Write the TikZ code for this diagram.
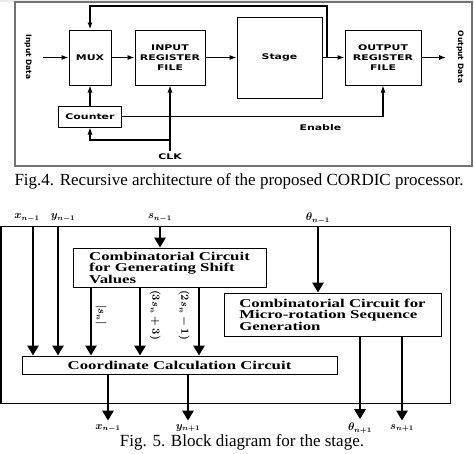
\documentclass[tikz,border=0pt]{standalone}
\usepackage{fontspec}
\usepackage{amsmath}
\usetikzlibrary{arrows.meta}
\setmainfont{Liberation Serif}
\newfontfamily\archfont[FakeStretch=1.4]{DejaVu Sans}
\newfontfamily\archside{DejaVu Sans}
\newfontfamily\blockfont[FakeStretch=1.4]{Liberation Serif}

\tikzset{
    unit/.style={draw, line width=1pt, inner sep=0pt, align=center,
        font=\archfont\bfseries\fontsize{7.8}{10}\selectfont},
    flow/.style={-{Latex[length=7pt,width=5pt]}, line width=1.1pt},
    block/.style={draw, line width=0.9pt, inner sep=0pt,
        font=\blockfont\bfseries\fontsize{12}{11.5}\selectfont},
    bus/.style={-{Triangle[length=10pt,width=11pt]}, line width=2.8pt},
    sig/.style={font=\boldmath\fontsize{10.5}{12}\selectfont},
}

\begin{document}
\begin{tikzpicture}[x=1pt, y=-1pt]
    \useasboundingbox (0,0) rectangle (474,453);
    % Fig. 4: recursive architecture
    \fill[black!8] (0,0) rectangle (474,2);
    \draw[black!55, line width=1.5pt] (15,2) rectangle (472,166);
    \node[unit, minimum width=42pt, minimum height=55pt] (mux) at (90,57.5) {MUX};
    \node[unit, minimum width=70pt, minimum height=55pt] (irf) at (170,57.5) {INPUT\\REGISTER\\FILE};
    \node[unit, minimum width=85pt, minimum height=81pt] (stage) at (279.5,57.5) {Stage};
    \node[unit, minimum width=76pt, minimum height=55pt] (orf) at (383,57.5) {OUTPUT\\REGISTER\\FILE};
    \node[unit, minimum width=63pt, minimum height=21pt] (counter) at (90,116.5) {Counter};
    \node[rotate=-90, font=\archside\bfseries\fontsize{7.5}{9}\selectfont] (indata) at (28,57) {Input Data};
    \node[rotate=-90, font=\archside\bfseries\fontsize{7.5}{9}\selectfont] (outdata) at (460,57) {Output Data};
    \node[font=\archfont\bfseries\fontsize{7.8}{9}\selectfont] (clk) at (170,157) {CLK};
    \coordinate (in) at (43,57.5);
    \coordinate (out) at (446,57.5);
    \coordinate (fb) at (327,57.5);
    \coordinate (loop) at (90,6);
    \coordinate (tap) at (170,140);
    \draw[flow] (in) -- (mux);
    \draw[flow] (mux) -- (irf);
    \draw[flow] (irf) -- (stage);
    \draw[flow] (stage) -- (orf);
    \draw[flow] (orf) -- (out);
    \draw[flow, line width=2pt] (fb) |- (loop) -- (mux);
    \draw[flow] (counter) -- (mux);
    \draw[flow] (counter.east) -| (orf.south)
        node[pos=0.38, below=4pt, font=\archfont\bfseries\fontsize{7.8}{9}\selectfont] (enable) {Enable};
    \draw[flow] (clk) -- (irf);
    \draw[flow] (tap) -| (counter);
    \node[font=\fontsize{17}{20}\selectfont] (cap4) at (239,181) {Fig.4. Recursive architecture of the proposed CORDIC processor.};

    % Fig. 5: block diagram for the stage
    \node[draw, line width=1pt, minimum width=449pt, minimum height=177pt, inner sep=0pt] (frame) at (225.5,314.5) {};
    \draw[line width=2pt] (frame.north west) -- (frame.south west);
    \node[block, align=left, minimum width=193pt, minimum height=39pt] (shift) at (169.5,267.5) {Combinatorial Circuit\\for Generating Shift\\Values};
    \node[block, align=left, minimum width=217pt, minimum height=43pt] (ccmr) at (332.5,314.5) {Combinatorial Circuit for\\Micro-rotation Sequence\\Generation};
    \node[block, minimum width=315pt, minimum height=18pt] (ccc) at (179.5,365) {Coordinate Calculation Circuit};
    \node[sig] (xin) at (27,218) {$x_{n-1}$};
    \node[sig] (yin) at (63,218) {$y_{n-1}$};
    \node[sig] (sin) at (160,218) {$s_{n-1}$};
    \node[sig] (thin) at (318,218) {$\theta_{n-1}$};
    \coordinate (xtop) at (33,226);
    \coordinate (ytop) at (58,226);
    \coordinate (stop) at (160,226);
    \coordinate (thtop) at (318,226);
    \draw[bus] (xtop) -- (xtop |- ccc.north);
    \draw[bus] (ytop) -- (ytop |- ccc.north);
    \draw[bus] (stop) -- (stop |- shift.north);
    \draw[bus] (thtop) -- (thtop |- ccmr.north);
    \foreach \x in {91,140,199}
        \draw[bus] (shift.south -| \x,0) -- (ccc.north -| \x,0);
    \node[sig, rotate=-90] (sabs) at (101,315) {$|s_n|$};
    \node[sig, rotate=-90] (sthree) at (155,315) {$(3s_n+3)$};
    \node[sig, rotate=-90] (stwo) at (184,315) {$(2s_n-1)$};
    \node[sig] (xout) at (108,428) {$x_{n-1}$};
    \node[sig] (yout) at (188,428) {$y_{n+1}$};
    \node[sig] (thout) at (360,428) {$\theta_{n+1}$};
    \node[sig] (sout) at (402,428) {$s_{n+1}$};
    \draw[bus] (xout |- ccc.south) -- (xout);
    \draw[bus] (yout |- ccc.south) -- (yout);
    \draw[bus] (thout |- ccmr.south) -- (thout);
    \draw[bus] (sout |- ccmr.south) -- (sout);
    \node[font=\fontsize{17}{20}\selectfont] (cap5) at (242,442) {Fig. 5. Block diagram for the stage.};
\end{tikzpicture}
\end{document}
